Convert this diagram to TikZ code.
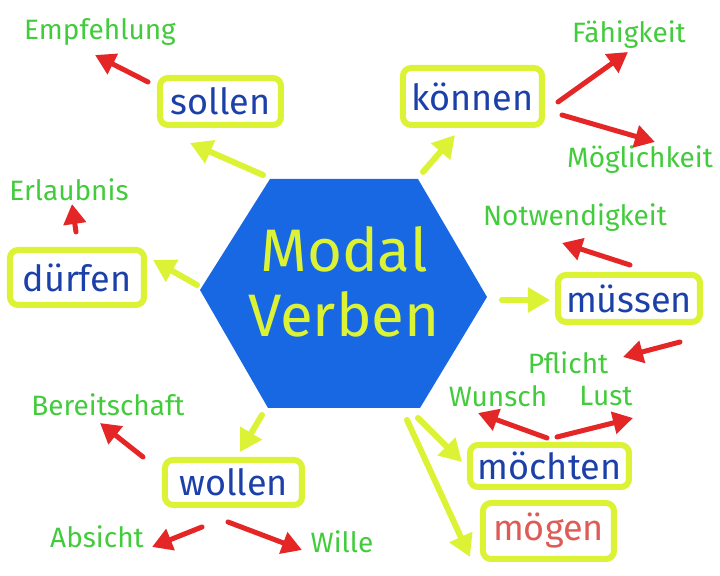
\documentclass[tikz,border=0pt]{standalone}
\usepackage{fontspec}
\setmainfont{Fira Sans}
\usetikzlibrary{arrows.meta}

\definecolor{hexblue}{RGB}{24,104,228}
\definecolor{lime}{RGB}{220,242,52}
\definecolor{verbblue}{RGB}{28,64,170}
\definecolor{meangreen}{RGB}{66,204,60}
\definecolor{arrred}{RGB}{228,38,38}
\definecolor{moegenred}{RGB}{222,92,88}

\tikzset{
  verb/.style={draw=lime, line width=3pt, rounded corners=4pt, fill=white,
    text=verbblue, font=\fontsize{18}{20}\selectfont, inner sep=0pt},
  mean/.style={text=meangreen, font=\fontsize{14}{16}\selectfont, inner sep=0pt},
  limearr/.style={draw=lime, line width=3pt, line cap=round,
    -{Triangle[length=11pt,width=12pt]}},
  redarr/.style={draw=arrred, line width=2.5pt, line cap=round,
    -{Triangle[length=10pt,width=11pt]}},
}

\begin{document}
\begin{tikzpicture}[x=0.5pt,y=-0.5pt]
  \useasboundingbox (0,0) rectangle (720,576);

  % centre
  \fill[hexblue] (270,179) -- (418,179) -- (487,297) -- (420,408) -- (268,408) -- (200,290) -- cycle;
  \node[text=lime, font=\fontsize{30}{32.5}\selectfont, align=center] (hex) at (344,282) {Modal\\Verben};

  % verbs
  \node[verb, minimum width=60.5pt, minimum height=23.5pt] (sollen) at (220.5,101.5) {sollen};
  \node[verb, minimum width=69.5pt, minimum height=28.5pt] (koennen) at (472.5,96.5) {können};
  \node[verb, minimum width=67pt, minimum height=27.5pt] (duerfen) at (77,277.5) {dürfen};
  \node[verb, minimum width=71pt, minimum height=23.5pt] (muessen) at (629,298.5) {müssen};
  \node[verb, minimum width=68.5pt, minimum height=22.5pt] (wollen) at (233.5,482.5) {wollen};
  \node[verb, minimum width=79.5pt, minimum height=21pt] (moechten) at (549.5,466) {möchten};
  \node[verb, minimum width=65.5pt, minimum height=28pt, text=moegenred] (moegen) at (548.5,531) {mögen};

  % meanings
  \node[mean] (empf) at (100,32) {Empfehlung};
  \node[mean] (faehig) at (629,35) {Fähigkeit};
  \node[mean] (moeglich) at (640,160) {Möglichkeit};
  \node[mean] (erlaub) at (69,190) {Erlaubnis};
  \node[mean] (notw) at (575,218) {Notwendigkeit};
  \node[mean] (pflicht) at (568,363) {Pflicht};
  \node[mean] (wunsch) at (498,396) {Wunsch};
  \node[mean] (lust) at (606,396) {Lust};
  \node[mean] (bereit) at (108,405) {Bereitschaft};
  \node[mean] (absicht) at (97,537) {Absicht};
  \node[mean] (wille) at (342,542) {Wille};

  % centre -> verbs
  \draw[limearr] ([shift={(-81,-107)}]hex.center) -- ([shift={(-30.5,41.5)}]sollen.center);
  \draw[limearr] ([shift={(79,-110)}]hex.center) -- ([shift={(-17.5,38.5)}]koennen.center);
  \draw[limearr] ([shift={(-147,3)}]hex.center) -- ([shift={(76,-17.5)}]duerfen.center);
  \draw[limearr] ([shift={(158,18)}]hex.center) -- ([shift={(-79,1.5)}]muessen.center);
  \draw[limearr] ([shift={(-82,133)}]hex.center) -- ([shift={(6.5,-30.5)}]wollen.center);
  \draw[limearr] ([shift={(74,136)}]hex.center) -- ([shift={(-87.5,-4)}]moechten.center);
  \draw[limearr] ([shift={(63,138)}]hex.center) -- ([shift={(-78.5,26)}]moegen.center);

  % verbs -> meanings
  \draw[redarr] ([shift={(-72.5,-19.5)}]sollen.center) -- ([shift={(-5,23)}]empf.center);
  \draw[redarr] ([shift={(-1,-45.5)}]duerfen.center) -- ([shift={(3,14)}]erlaub.center);
  \draw[redarr] ([shift={(85.5,5.5)}]koennen.center) -- ([shift={(-1,17)}]faehig.center);
  \draw[redarr] ([shift={(89.5,18.5)}]koennen.center) -- ([shift={(15,-18)}]moeglich.center);
  \draw[redarr] ([shift={(1,-33.5)}]muessen.center) -- ([shift={(-13,25)}]notw.center);
  \draw[redarr] ([shift={(51,43.5)}]muessen.center) -- ([shift={(55,-6)}]pflicht.center);
  \draw[redarr] ([shift={(-2.5,-28)}]moechten.center) -- ([shift={(-20,17)}]wunsch.center);
  \draw[redarr] ([shift={(7.5,-29)}]moechten.center) -- ([shift={(27,22)}]lust.center);
  \draw[redarr] ([shift={(-90.5,-25.5)}]wollen.center) -- ([shift={(-8,18)}]bereit.center);
  \draw[redarr] ([shift={(-31.5,44.5)}]wollen.center) -- ([shift={(55,10)}]absicht.center);
  \draw[redarr] ([shift={(-5.5,39.5)}]wollen.center) -- ([shift={(-40,8)}]wille.center);
\end{tikzpicture}
\end{document}
